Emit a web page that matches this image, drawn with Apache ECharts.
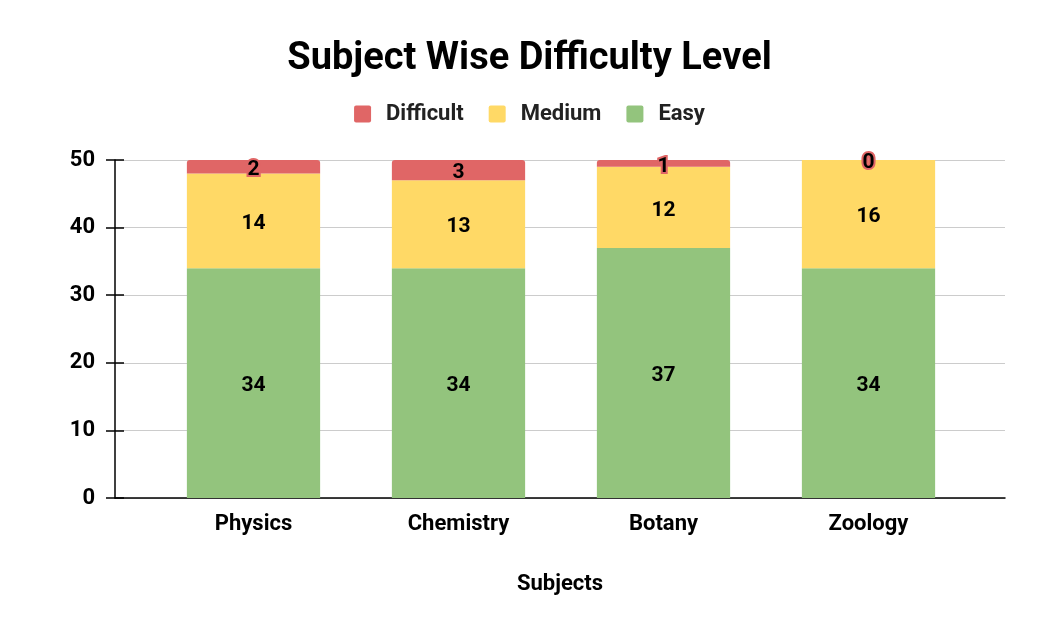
<!DOCTYPE html>
<html>
<head>
<meta charset="utf-8">
<script src="https://cdn.jsdelivr.net/npm/echarts@6/dist/echarts.min.js"></script>
<style>
  html, body { margin: 0; padding: 0; background: #fff; }
  #chart { width: 1059px; height: 623px; }
</style>
</head>
<body>
<div id="chart"></div>
<script>
// data
var subjects = ['Physics', 'Chemistry', 'Botany', 'Zoology'];
var easyValues = [34, 34, 37, 34];
var mediumValues = [14, 13, 12, 16];
var difficultValues = [2, 3, 1, 0];

var theChart = echarts.init(document.getElementById('chart'));

var fontFamily = 'Roboto, "Noto Sans", Arial, sans-serif';
var labelStyle = { show: true, position: 'inside', offset: [0, 3], color: '#000', fontSize: 21,
                   fontWeight: 'bold', fontFamily: fontFamily };

var option = {
  animation: false,
  textStyle: { fontFamily: fontFamily },
  color: ['#e06666', '#ffd966', '#93c47d'],
  title: {
    text: 'Subject Wise Difficulty Level',
    left: 'center', top: 35,
    textStyle: { fontSize: 38, fontWeight: 'bold', color: '#000', fontFamily: fontFamily }
  },
  legend: {
    top: 98, left: 'center',
    itemWidth: 17, itemHeight: 17, itemGap: 25,
    icon: 'path://M2,0 L15,0 Q17,0 17,2 L17,15 Q17,17 15,17 L2,17 Q0,17 0,15 L0,2 Q0,0 2,0 Z',
    textStyle: { fontSize: 22, fontWeight: 'bold', color: '#222', fontFamily: fontFamily,
                 padding: [0, 0, 0, 10] },
    data: ['Difficult', 'Medium', 'Easy']
  },
  // grid 0 holds the long axis lines and grid lines, grid 1 the bars
  grid: [
    { left: 115, right: 54, top: 160, bottom: 125 },
    { left: 151, right: 88, top: 160, bottom: 125 }
  ],
  xAxis: [
    {
      gridIndex: 0, type: 'value', min: 0, max: 1,
      axisLine: { show: true, lineStyle: { color: '#000', width: 1.5 } },
      axisTick: { show: false }, axisLabel: { show: false }, splitLine: { show: false },
      name: 'Subjects', nameLocation: 'middle', nameGap: 75,
      nameTextStyle: { fontSize: 22, fontWeight: 'bold', color: '#000' }
    },
    {
      gridIndex: 1, type: 'category', data: subjects,
      axisLine: { show: false }, axisTick: { show: false },
      axisLabel: { margin: 15, fontSize: 22, fontWeight: 'bold', color: '#000' }
    }
  ],
  yAxis: [
    {
      gridIndex: 0, type: 'value', min: 0, max: 50, interval: 10,
      axisLine: { show: true, lineStyle: { color: '#000', width: 1.5 } },
      axisTick: { show: true, length: 9, lineStyle: { color: '#000', width: 1.5 } },
      axisLabel: { margin: 20, fontSize: 22, fontWeight: 'bold', color: '#000' },
      splitLine: { show: true, lineStyle: { color: '#cccccc', width: 1 } }
    },
    {
      gridIndex: 0, type: 'value', min: 0, max: 50, interval: 10, position: 'left', offset: 0,
      axisLine: { show: false },
      axisTick: { show: true, inside: true, length: 9, lineStyle: { color: '#000', width: 1.5 } },
      axisLabel: { show: false }, splitLine: { show: false }
    },
    {
      gridIndex: 1, type: 'value', min: 0, max: 50, interval: 10, show: false
    }
  ],
  series: [
    {
      name: 'Easy', type: 'bar', stack: 'total', xAxisIndex: 1, yAxisIndex: 2,
      barWidth: '65%', data: easyValues,
      itemStyle: { color: '#93c47d' }, label: labelStyle, z: 3
    },
    {
      name: 'Medium', type: 'bar', stack: 'total', xAxisIndex: 1, yAxisIndex: 2,
      data: mediumValues,
      itemStyle: { color: '#ffd966' }, label: labelStyle, z: 3
    },
    {
      name: 'Difficult', type: 'bar', stack: 'total', xAxisIndex: 1, yAxisIndex: 2,
      data: difficultValues,
      itemStyle: { color: '#e06666', borderRadius: [3, 3, 0, 0] },
      label: Object.assign({}, labelStyle, { textBorderColor: '#e06666', textBorderWidth: 4 }),
      z: 3
    }
  ]
};

theChart.setOption(option);
</script>
</body>
</html>
